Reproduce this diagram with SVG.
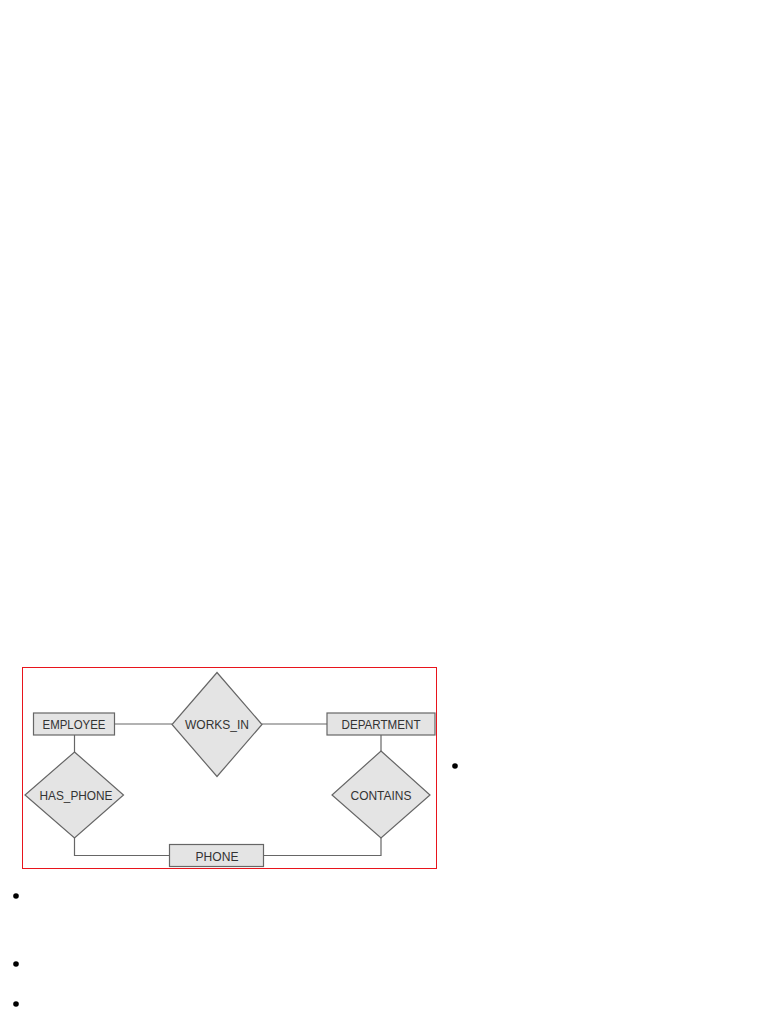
<svg xmlns="http://www.w3.org/2000/svg" width="768" height="1024" viewBox="0 0 768 1024">
<style>
.n{fill:#e4e4e4;stroke:#666;stroke-width:1.2}
.c{fill:none;stroke:#666;stroke-width:1.2}
.t{font-family:"Liberation Sans",Arial,sans-serif;font-size:13.5px;fill:#333;text-anchor:middle;dominant-baseline:central}
.b{fill:#000}
</style>
<rect x="0" y="0" width="768" height="1024" fill="#fff"/>
<rect x="22.5" y="667.5" width="414" height="201" fill="#fff" stroke="#e8141c" stroke-width="1"/>
<g id="connectors">
<line class="c" x1="114" y1="724" x2="172" y2="724"/>
<line class="c" x1="262" y1="724" x2="327" y2="724"/>
<line class="c" x1="74.5" y1="735" x2="74.5" y2="752"/>
<line class="c" x1="381" y1="735" x2="381" y2="751"/>
<polyline class="c" points="74.5,838 74.5,855.5 169,855.5"/>
<polyline class="c" points="263,855.5 381,855.5 381,838"/>
</g>
<g id="employee">
<rect class="n" x="33.5" y="713" width="81" height="22"/>
<text class="t" x="74" y="724.5" textLength="63" lengthAdjust="spacingAndGlyphs">EMPLOYEE</text>
</g>
<g id="works_in">
<polygon class="n" points="217,672.5 262,724.5 217,776.5 172,724.5"/>
<text class="t" x="217" y="724.5" textLength="64" lengthAdjust="spacingAndGlyphs">WORKS_IN</text>
</g>
<g id="department">
<rect class="n" x="327" y="713" width="108" height="22"/>
<text class="t" x="381" y="724.5" textLength="79" lengthAdjust="spacingAndGlyphs">DEPARTMENT</text>
</g>
<g id="has_phone">
<polygon class="n" points="74.5,752 123.5,795 74.5,838 25,795"/>
<text class="t" x="76" y="795.5" textLength="73" lengthAdjust="spacingAndGlyphs">HAS_PHONE</text>
</g>
<g id="contains">
<polygon class="n" points="381,751 430,795 381,838 332,795"/>
<text class="t" x="381" y="795.5" textLength="61" lengthAdjust="spacingAndGlyphs">CONTAINS</text>
</g>
<g id="phone">
<rect class="n" x="169.5" y="844.5" width="94" height="22"/>
<text class="t" x="217" y="856" textLength="43" lengthAdjust="spacingAndGlyphs">PHONE</text>
</g>
<circle class="b" cx="455" cy="766" r="2.8"/>
<circle class="b" cx="16" cy="896" r="2.8"/>
<circle class="b" cx="16" cy="964" r="2.8"/>
<circle class="b" cx="16" cy="1004" r="2.8"/>
</svg>
